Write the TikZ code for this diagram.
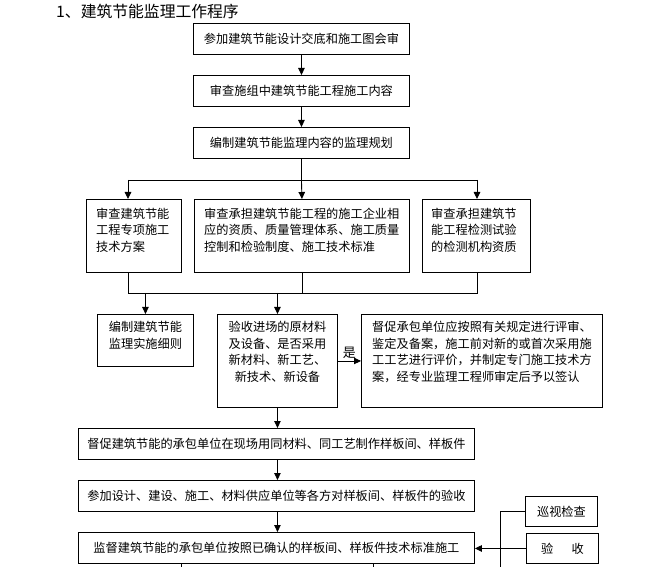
\documentclass[tikz,border=0pt]{standalone}
\usepackage{fontspec}
\newfontfamily\cjk{Noto Sans CJK SC}
\usetikzlibrary{arrows.meta}

\tikzset{
  box/.style={draw, line width=0.9pt, inner sep=0pt, anchor=north west,
    font=\cjk\fontsize{12.2}{16.5}\selectfont},
  txt/.style={inner sep=0pt, font=\cjk\fontsize{12.2}{16.5}\selectfont},
  arr/.style={-{Triangle[length=7pt,width=6.5pt]}, line width=0.9pt},
  ln/.style={line width=0.9pt}
}

\begin{document}
\begin{tikzpicture}[x=1pt, y=-1pt]
  \useasboundingbox (0,0) rectangle (649,567);

  % Title
  \node[txt, anchor=west, font=\cjk\fontsize{15.8}{18}\selectfont] (title) at (56,11) {1、建筑节能监理工作程序};

  % Nodes
  \node[box, minimum width=216pt, minimum height=31pt] (design) at (193,23) {参加建筑节能设计交底和施工图会审};
  \node[box, minimum width=216pt, minimum height=31pt] (check) at (193,75) {审查施组中建筑节能工程施工内容};
  \node[box, minimum width=216pt, minimum height=31pt] (plan) at (193,127) {编制建筑节能监理内容的监理规划};

  \node[box, minimum width=95pt, minimum height=73pt] (scheme) at (86,199) {};
  \node[txt, anchor=north west, align=left] (schemet) at ([xshift=10pt,yshift=-8.5pt]scheme.north west)
    {审查建筑节能\\工程专项施工\\技术方案};
  \node[box, minimum width=215pt, minimum height=73pt] (qualif) at (194,199) {};
  \node[txt, anchor=north west, align=left] (qualift) at ([xshift=10pt,yshift=-8.5pt]qualif.north west)
    {审查承担建筑节能工程的施工企业相\\应的资质、质量管理体系、施工质量\\控制和检验制度、施工技术标准};
  \node[box, minimum width=108pt, minimum height=73pt] (lab) at (422,199) {};
  \node[txt, anchor=north west, align=left] (labt) at ([xshift=9pt,yshift=-8.5pt]lab.north west)
    {审查承担建筑节\\能工程检测试验\\的检测机构资质};

  \node[box, minimum width=96pt, minimum height=52pt] (rules) at (97,314) {};
  \node[txt, anchor=north, align=center] (rulest) at ([yshift=-7pt]rules.north)
    {编制建筑节能\\监理实施细则};
  \node[box, minimum width=120pt, minimum height=93pt] (material) at (217,314) {};
  \node[txt, anchor=north, align=center] (materialt) at ([yshift=-7pt]material.north)
    {验收进场的原材料\\及设备、是否采用\\新材料、新工艺、\\新技术、新设备};
  \node[box, minimum width=241pt, minimum height=93pt] (newtech) at (361,314) {};
  \node[txt, anchor=north west, align=left] (newtecht) at ([xshift=11pt,yshift=-7pt]newtech.north west)
    {督促承包单位应按照有关规定进行评审、\\鉴定及备案，施工前对新的或首次采用施\\工工艺进行评价，并制定专门施工技术方\\案，经专业监理工程师审定后予以签认};

  \node[box, minimum width=396pt, minimum height=31pt] (sample) at (78,428) {督促建筑节能的承包单位在现场用同材料、同工艺制作样板间、样板件};
  \node[box, minimum width=396pt, minimum height=31pt] (accept) at (78,480) {参加设计、建设、施工、材料供应单位等各方对样板间、样板件的验收};
  \node[box, minimum width=396pt, minimum height=31pt] (supervise) at (78,532) {监督建筑节能的承包单位按照已确认的样板间、样板件技术标准施工};

  \node[box, minimum width=72pt, minimum height=30pt] (patrol) at (525,496) {巡视检查};
  \node[box, minimum width=72pt, minimum height=30pt] (inspect) at (526,533) {验\hspace{1.5em}收};

  % Fork and join points
  \coordinate (forkL) at (128,180);
  \coordinate (forkR) at (477,180);
  \coordinate (joinL) at (128,293);
  \coordinate (joinR) at (477,293);
  \coordinate (outL) at (181,567);
  \coordinate (outM) at (373,567);
  \coordinate (outR) at (500,567);

  % Arrows
  \draw[arr] (design) -- (check);
  \draw[arr] (check) -- (plan);
  \draw[ln] (plan.south) -- (plan.south |- forkL);
  \draw[ln] (forkL) -- (forkR);
  \draw[arr] (forkL) -- (forkL |- scheme.north);
  \draw[arr] (plan.south |- forkL) -- (qualif.north);
  \draw[arr] (forkR) -- (forkR |- lab.north);

  \draw[ln] (joinL |- scheme.south) -- (joinL) -- (joinR) -- (joinR |- lab.south);
  \draw[ln] (qualif.south) -- (qualif.south |- joinL);
  \draw[arr] (rules.north |- joinL) -- (rules.north);
  \draw[arr] (material.north |- joinL) -- (material.north);

  \draw[arr] (material) -- node[txt, above=1.5pt, font=\cjk\fontsize{13}{14}\selectfont] (yes) {是} (newtech);
  \draw[arr] (material.south) -- (material.south |- sample.north);
  \draw[arr] (material.south |- sample.south) -- (material.south |- accept.north);
  \draw[arr] (material.south |- accept.south) -- (material.south |- supervise.north);

  \draw[ln] (outL |- supervise.south) -- (outL);
  \draw[ln] (outM |- supervise.south) -- (outM);
  \draw[ln] (patrol.west) -| (outR);
  \draw[arr] (inspect.west) -- (inspect.west -| supervise.east);
\end{tikzpicture}
\end{document}
